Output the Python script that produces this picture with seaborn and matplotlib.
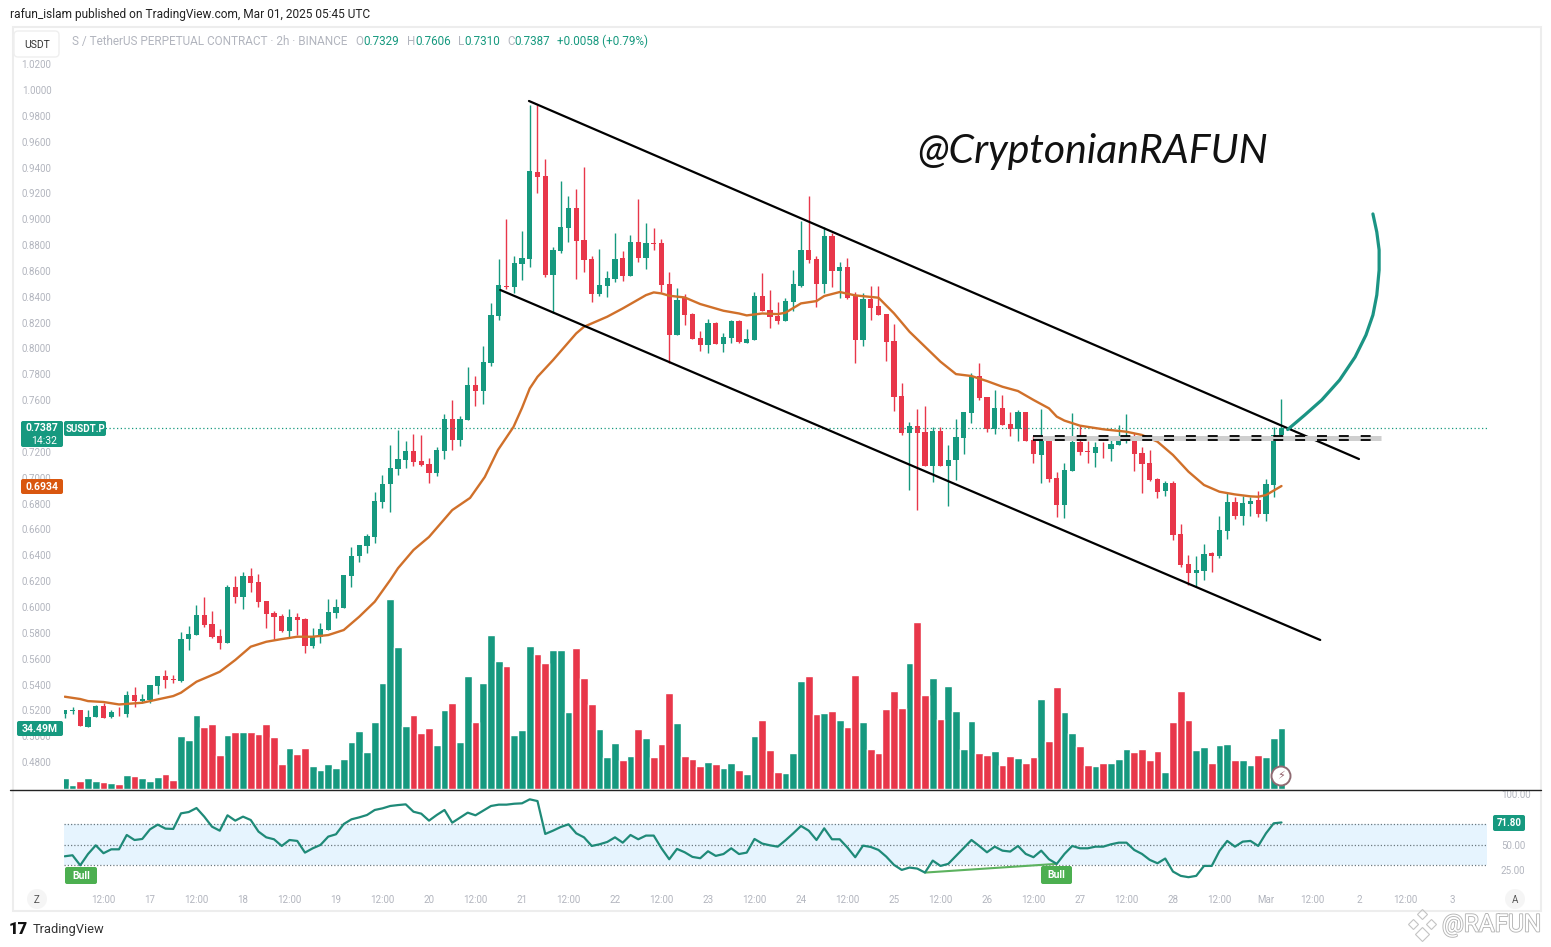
import pandas as pd
import matplotlib
matplotlib.use('Agg')
import matplotlib.pyplot as plt
import matplotlib.patheffects as pe
from matplotlib.patches import Rectangle, FancyBboxPatch, Circle
import seaborn as sns

# candles
opens = [.5175,.5195,.5200,.5074,.5150,.5234,.5146,.5190,.5174,.5319,
         .5272,.5280,.5391,.5466,.5441,.5427,.5752,.5780,.5940,.5868,
         .5775,.5724,.6155,.6080,.6240,.6193,.6046,.5950,.5930,.5817,
         .5920,.5907,.5698,.5765,.5822,.5956,.5995,.6242,.6397,.6475,
         .6545,.6815,.6950,.7070,.7137,.7206,.7129,.7106,.7036,.7206,
         .7454,.7292,.7446,.7715,.7673,.7890,.8251,.8483,.8478,.8656,
         .8692,.9365,.9334,.8568,.8754,.8932,.9087,.8839,.8694,.8421,
         .8483,.8537,.8700,.8560,.8824,.8700,.8816,.8816,.8498,.8104,
         .8390,.8266,.8081,.8026,.8197,.8034,.8080,.8212,.8042,.8065,
         .8406,.8297,.8251,.8212,.8362,.8483,.8762,.8692,.8499,.8870,
         .8599,.8631,.8406,.8065,.8383,.8328,.8267,.8057,.7632,.7348,
         .7400,.7353,.7090,.7361,.7090,.7136,.7307,.7500,.7787,.7624,
         .7376,.7539,.7415,.7376,.7508,.7291,.7175,.7312,.6995,.6788,
         .7051,.7274,.7204,.7194,.7240,.7222,.7253,.7289,.7300,.7189,
         .7111,.6990,.6900,.6956,.6564,.6332,.6265,.6278,.6415,.6397,
         .6590,.6812,.6704,.6797,.6825,.6719,.6943,.7329]
highs = [.5205,.5225,.5205,.5200,.5241,.5254,.5203,.5223,.5350,.5383,
         .5326,.5396,.5470,.5512,.5473,.5804,.5850,.6015,.6080,.5971,
         .5830,.6170,.6240,.6270,.6299,.6255,.6046,.5971,.5946,.5984,
         .5956,.5912,.5835,.5873,.6062,.6062,.6250,.6467,.6483,.6565,
         .6892,.7022,.7254,.7369,.7286,.7338,.7330,.7150,.7240,.7493,
         .7601,.7477,.7854,.7787,.8019,.8355,.8692,.9002,.8715,.8911,
         .9884,.9884,.9463,.8782,.9298,.9180,.9234,.9401,.8715,.8769,
         .8599,.8896,.8756,.8878,.9156,.8973,.8934,.8847,.8589,.8465,
         .8421,.8271,.8135,.8228,.8202,.8117,.8220,.8220,.8153,.8437,
         .8586,.8452,.8362,.8388,.8607,.8989,.9180,.8715,.8942,.8891,
         .8672,.8697,.8439,.8426,.8483,.8483,.8267,.8186,.7730,.7428,
         .7531,.7554,.7395,.7390,.7253,.7451,.7508,.7807,.7885,.7624,
         .7678,.7640,.7508,.7523,.7508,.7322,.7529,.7312,.7047,.7111,
         .7498,.7408,.7287,.7279,.7279,.7305,.7408,.7493,.7344,.7235,
         .7214,.6995,.6977,.6977,.6642,.6402,.6394,.6487,.6422,.6704,
         .6879,.6848,.6858,.6853,.6900,.6987,.7395,.7606]
lows = [.5145,.5175,.5080,.5074,.5150,.5138,.5138,.5156,.5151,.5228,
        .5254,.5260,.5330,.5370,.5409,.5417,.5667,.5780,.5848,.5757,
        .5675,.5724,.6028,.5982,.6118,.6002,.5835,.5744,.5810,.5770,
        .5783,.5641,.5680,.5719,.5822,.5912,.5995,.6157,.6350,.6415,
        .6493,.6765,.6738,.7021,.7077,.7090,.7090,.6956,.7013,.7145,
        .7214,.7245,.7446,.7555,.7570,.7864,.8220,.8460,.8426,.8529,
        .8633,.9200,.8555,.8277,.8736,.8826,.8537,.8594,.8362,.8406,
        .8400,.8517,.8522,.8560,.8671,.8615,.8762,.8439,.7884,.8104,
        .8181,.8073,.7982,.7967,.8034,.7975,.8039,.8044,.8042,.8065,
        .8289,.8160,.8190,.8212,.8292,.8478,.8664,.8318,.8426,.8473,
        .8388,.8380,.7885,.8019,.8220,.8259,.7903,.7516,.7330,.6904,
        .6749,.7090,.6966,.7090,.6781,.6982,.7183,.7425,.7601,.7356,
        .7337,.7407,.7325,.7286,.7286,.7111,.6961,.6969,.6698,.6685,
        .7054,.7176,.7111,.7085,.7150,.7132,.7253,.7271,.7052,.6879,
        .6977,.6846,.6861,.6518,.6306,.6170,.6157,.6208,.6273,.6376,
        .6523,.6680,.6634,.6704,.6693,.6667,.6848,.7310]
closes = [.5200,.5200,.5082,.5150,.5234,.5143,.5187,.5185,.5319,.5272,
          .5288,.5396,.5466,.5435,.5436,.5752,.5790,.5940,.5860,.5770,
          .5724,.6157,.6080,.6240,.6188,.6041,.5946,.5925,.5817,.5920,
          .5900,.5700,.5770,.5827,.5958,.6000,.6245,.6395,.6480,.6552,
          .6820,.6950,.7073,.7142,.7206,.7121,.7098,.7036,.7214,.7454,
          .7292,.7454,.7715,.7673,.7895,.8259,.8491,.8473,.8664,.8697,
          .9373,.9327,.8568,.8762,.8940,.9087,.8831,.8684,.8421,.8491,
          .8545,.8694,.8560,.8824,.8700,.8816,.8811,.8491,.8104,.8375,
          .8258,.8073,.8026,.8197,.8034,.8088,.8212,.8050,.8073,.8406,
          .8289,.8243,.8212,.8367,.8499,.8762,.8685,.8499,.8870,.8602,
          .8628,.8388,.8065,.8383,.8315,.8259,.8050,.7627,.7348,.7400,
          .7348,.7090,.7361,.7090,.7136,.7315,.7508,.7787,.7614,.7376,
          .7539,.7407,.7376,.7508,.7286,.7181,.7318,.6992,.6789,.7059,
          .7274,.7201,.7196,.7235,.7235,.7261,.7297,.7300,.7184,.7106,
          .6982,.6892,.6956,.6557,.6324,.6260,.6286,.6410,.6397,.6595,
          .6812,.6704,.6802,.6817,.6719,.6951,.7330,.7387]

# volume in millions
volumes = [6.2,2.3,4.5,6.2,4.5,4.0,3.4,2.8,7.9,7.3,
           6.2,4.5,6.8,8.5,5.1,30.0,27.7,41.8,35.0,36.7,
           19.2,30.5,32.2,32.2,32.2,31.1,36.7,29.4,14.1,23.2,
           19.8,23.2,13.0,10.7,14.1,11.9,17.0,26.6,32.8,20.9,
           37.9,59.9,107.4,80.3,35.6,41.8,31.7,34.5,24.9,44.7,
           48.6,26.6,63.9,37.9,59.9,87.0,72.3,69.5,30.5,33.3,
           80.8,76.3,71.2,78.6,78.6,43.5,79.7,62.7,48.0,33.9,
           18.1,26.0,16.4,18.7,33.9,28.8,18.1,25.4,54.3,37.3,
           18.7,17.0,13.0,15.3,14.1,11.9,14.7,10.7,8.5,30.0,
           39.0,22.0,9.6,9.0,20.3,61.0,63.9,42.4,43.0,44.1,
           39.0,35.0,64.4,37.9,22.6,20.3,45.2,55.4,45.8,71.2,
           94.4,53.1,62.7,39.6,58.2,44.1,22.6,38.4,20.3,19.2,
           21.5,13.6,18.7,17.5,14.7,18.1,50.9,27.1,57.7,43.5,
           31.7,24.3,13.6,13.0,14.7,14.7,17.0,22.6,20.9,22.6,
           16.4,21.5,9.6,37.9,55.4,39.0,22.0,23.7,14.7,24.9,
           25.4,16.4,16.4,13.6,19.2,18.1,28.8,34.49]

rsi = [38.8,39.8,30.0,41.0,49.5,41.8,45.6,45.6,59.6,54.7,
       55.7,65.1,69.7,65.8,65.5,80.7,82.0,85.9,77.5,67.7,
       63.8,78.8,73.6,77.5,74.2,62.9,57.3,55.4,48.9,54.7,
       53.8,42.4,46.6,49.9,58.0,60.3,70.3,74.9,76.8,79.1,
       84.0,85.6,87.9,88.8,89.5,82.3,80.4,73.6,79.1,84.0,
       71.6,76.5,81.4,78.8,83.3,87.9,89.2,89.2,90.1,90.5,
       94.4,92.7,60.6,63.8,67.4,70.0,61.2,57.3,48.9,50.5,
       52.8,57.3,52.1,59.6,55.4,59.0,59.0,46.6,35.9,46.0,
       42.7,38.2,36.9,43.7,39.2,41.0,46.6,41.0,42.4,55.7,
       51.2,49.5,48.2,54.4,61.2,68.4,63.8,54.7,66.1,55.4,
       55.4,47.3,37.9,49.2,47.9,45.0,38.5,30.4,25.5,27.8,
       26.8,22.9,34.6,29.4,31.4,39.2,46.9,54.7,48.9,42.7,
       48.2,44.3,43.4,48.9,41.1,37.9,44.3,35.9,31.4,41.1,
       48.9,46.6,46.6,48.2,48.2,50.5,52.1,52.1,45.0,41.1,
       35.3,32.0,36.6,23.9,19.7,18.4,19.7,29.4,29.4,44.0,
       53.8,48.2,53.1,53.8,48.9,61.2,71.0,71.8]

# moving average, sampled along the orange line
ema_bars = [0,2,3,5,7,10,12,14,15,17,19,20,22,24,26,28,30,32,34,36,38,40,42,43,
            45,47,50,52.3,54.2,55.9,57.9,59,60,61,63,66,67,70,72,75,76,77,78,80,82,85,87,88,90,92,
            93,95,97,98,100,102,105,107,109,111,113,115,117,119,121,123,125,127,128,129,
            131,134,137,139,141,143,145,147,149,151,153,154,155,157]
ema_vals = [.5306,.5288,.5272,.5265,.5246,.5259,.5285,.5311,.5337,.5422,.5473,.5499,
            .5590,.5693,.5731,.5752,.5770,.5770,.5783,.5822,.5925,.6041,.6209,.6300,
            .6441,.6542,.6750,.6844,.7006,.7215,.7393,.7540,.7691,.7781,.7910,.8117,.8168,.8246,
            .8310,.8413,.8434,.8426,.8408,.8395,.8344,.8292,.8271,.8256,.8271,.8266,
            .8277,.8349,.8367,.8406,.8437,.8411,.8393,.8272,.8130,.8014,.7898,.7802,
            .7787,.7748,.7704,.7671,.7602,.7537,.7473,.7442,.7403,.7375,.7356,.7331,
            .7279,.7176,.7047,.6944,.6892,.6871,.6856,.6853,.6866,.6936]

# drawn tools: channel, level and the projected arc
upper_bars = [59.9, 167.0]
upper_vals = [.9915, .7145]
lower_bars = [56.2, 162.0]
lower_vals = [.8453, .5745]
level_bars = [124.9, 169.9]
level_val = .7307
arc_bars = [157.8,160.0,162.2,164.5,166.5,167.9,168.8,169.3,169.6,169.6,169.3,168.8]
arc_vals = [.7373,.7485,.7602,.7756,.7934,.8104,.8259,.8414,.8607,.8762,.8901,.9041]
div_bars = [111, 128]
div_vals = [22.9, 31.4]

# the 0.7400 label sits behind the last price tag on the original
price_ticks = [.48,.50,.52,.54,.56,.58,.60,.62,.64,.66,.68,.70,.72,.76,.78,.80,
               .82,.84,.86,.88,.90,.92,.94,.96,.98,1.00,1.02]
time_ticks = [5,11,17,23,29,35,41,47,53,59,65,71,77,83,89,95,101,107,113,119,125,
              131,137,143,149,155,161,167,173,179]
time_labels = ['12:00','17','12:00','18','12:00','19','12:00','20','12:00','21',
               '12:00','22','12:00','23','12:00','24','12:00','25','12:00','26',
               '12:00','27','12:00','28','12:00','Mar','12:00','2','12:00','3']

GREEN = '#16997f'
RED = '#e8374a'
ORANGE = '#d0702a'
TEAL = '#1f8a78'
GREY = '#b2b5be'
W, H = 1551, 947

sns.set_theme(style='white')
plt.rcParams['font.family'] = ['Roboto', 'DejaVu Sans']

df = pd.DataFrame({'bar': range(len(opens)), 'open': opens, 'high': highs, 'low': lows,
                   'close': closes, 'vol': volumes, 'rsi': rsi})
df['dir'] = ['up' if c >= o else 'down' for o, c in zip(opens, closes)]
df['body'] = (df['close'] - df['open']).abs().clip(lower=.0005)
df['base'] = df[['open', 'close']].min(axis=1)
colors = df['dir'].map({'up': GREEN, 'down': RED})

fig = plt.figure(figsize=(W / 100, H / 100), dpi=100, facecolor='white')


def px_axes(x0, y0, x1, y1, **kw):
    return fig.add_axes([x0 / W, 1 - y1 / H, (x1 - x0) / W, (y1 - y0) / H], **kw)


xlim = (-0.097, 183.52)

# volume underneath, on its own scale
ax_vol = px_axes(64, 27, 1487, 789)
sns.barplot(data=df, x='bar', y='vol', hue='dir', palette={'up': GREEN, 'down': RED},
            dodge=False, native_scale=True, width=1.0, saturation=1, legend=False, ax=ax_vol)
ax_vol.set_xlim(*xlim)
ax_vol.set_ylim(0, 430.5)
ax_vol.axis('off')

# price pane
ax = px_axes(64, 27, 1487, 789)
ax.patch.set_alpha(0)
ax.vlines(df['bar'], df['low'], df['high'], colors=colors, lw=1)
ax.bar(df['bar'], df['body'], bottom=df['base'], width=.7, color=colors, linewidth=0)
sns.lineplot(x=ema_bars, y=ema_vals, color=ORANGE, lw=1.7, ax=ax, zorder=4)
ax.axhline(closes[-1], color=GREEN, lw=.9, ls=(0, (1, 2)), zorder=1)
sns.lineplot(x=upper_bars, y=upper_vals, color='black', lw=1.6, ax=ax, zorder=5)
sns.lineplot(x=lower_bars, y=lower_vals, color='black', lw=1.6, ax=ax, zorder=5)
ax.plot(level_bars, [level_val] * 2, color='#cfcfcf', lw=3.6, solid_capstyle='butt', zorder=5)
for off in (-.0014, .0014):
    ax.plot(level_bars, [level_val + off] * 2, color='black', lw=1.3,
            dashes=(5.5, 6.6), dash_capstyle='butt', zorder=6)
sns.lineplot(x=arc_bars, y=arc_vals, color='#1b9484', lw=2.3, sort=False, estimator=None,
             ax=ax, zorder=6)
ax.set_xlim(*xlim)
ax.set_ylim(.45919, 1.04874)
ax.set_yticks(price_ticks)
ax.set_yticklabels([f'{t:.4f}' for t in price_ticks])
ax.tick_params(axis='y', length=0, pad=9, labelsize=7, labelcolor=GREY)
ax.set_xticks([])
ax.set_xlabel('')
ax.set_ylabel('')
sns.despine(ax=ax, left=True, bottom=True)

# rsi pane
ax_rsi = px_axes(64, 790, 1487, 888)
ax_rsi.axhspan(30, 70, color='#e6f4fe', lw=0)
for lvl in (30, 50, 70):
    ax_rsi.axhline(lvl, color='#6d7a80', lw=.9, ls=(0, (1, 1.6)))
sns.lineplot(data=df, x='bar', y='rsi', color=TEAL, lw=1.6, ax=ax_rsi, zorder=4)
sns.lineplot(x=div_bars, y=div_vals, color='#5cb25f', lw=1.5, ax=ax_rsi, zorder=3)
ax_rsi.set_xlim(*xlim)
ax_rsi.set_ylim(7.85, 103.5)
ax_rsi.yaxis.tick_right()
ax_rsi.set_yticks([25, 50, 100])
ax_rsi.set_yticklabels(['25.00', '50.00', '100.00'])
ax_rsi.set_xticks(time_ticks)
ax_rsi.set_xticklabels(time_labels)
ax_rsi.tick_params(axis='y', length=0, pad=10, labelsize=7, labelcolor=GREY)
ax_rsi.tick_params(axis='x', length=0, pad=5, labelsize=7, labelcolor=GREY)
ax_rsi.set_xlabel('')
ax_rsi.set_ylabel('')
sns.despine(ax=ax_rsi, left=True, right=True, top=True, bottom=True)

# page furniture in pixel coordinates
ov = fig.add_axes([0, 0, 1, 1], zorder=10)
ov.set_xlim(0, W)
ov.set_ylim(H, 0)
ov.axis('off')
ov.patch.set_alpha(0)

ov.add_patch(Rectangle((13, 27), 1528, 884, fill=False, ec='#ededed', lw=1.5))
ov.plot([10, 1541], [789.5, 789.5], color='#222222', lw=1)


def tag(x0, y0, x1, y1, color, label, size=7.5, cx=None, cy=None):
    ov.add_patch(FancyBboxPatch((x0 + 1, y0 + 1), x1 - x0 - 2, y1 - y0 - 2,
                                boxstyle='round,pad=1,rounding_size=2', fc=color, ec='none'))
    ov.text((x0 + x1) / 2 if cx is None else cx, (y0 + y1) / 2 if cy is None else cy, label,
            color='white', fontsize=size, fontweight='bold', ha='center', va='center')


ov.text(10, 14.5, 'rafun_islam published on TradingView.com, Mar 01, 2025 05:45 UTC',
        fontsize=8.6, color='#222222', va='center')
ov.add_patch(FancyBboxPatch((15, 32), 43, 24, boxstyle='round,pad=1,rounding_size=4',
                            fc='white', ec='#efefef', lw=1))
ov.text(37, 44.5, 'USDT', fontsize=7.5, color='#333333', ha='center', va='center')

legend_y = 41.5
ov.text(72, legend_y, 'S / TetherUS PERPETUAL CONTRACT · 2h · BINANCE', fontsize=8.45,
        color=GREY, va='center')
for x, label, col in [(355, 'O', GREY), (363, '0.7329', GREEN), (407, 'H', GREY),
                      (415, '0.7606', GREEN), (458, 'L', GREY), (464, '0.7310', GREEN),
                      (507, 'C', GREY), (514, '0.7387', GREEN), (557, '+0.0058 (+0.79%)', GREEN)]:
    ov.text(x, legend_y, label, fontsize=8.4, color=col, va='center')

tag(21, 421, 63, 447, GREEN, '0.7387', cy=428)
ov.text(44, 440.5, '14:32', fontsize=7.5, color='white', ha='center', va='center')
tag(64, 421, 106, 436, GREEN, 'SUSDT.P', size=7)
tag(21, 479, 63, 494, '#d9570f', '0.6934')
tag(17, 721, 63, 736, GREEN, '34.49M')
tag(1493, 815, 1525, 831, GREEN, '71.80', size=7)
tag(65, 867, 97, 884, '#4caf50', 'Bull', size=7.5)
tag(1041, 866, 1072, 884, '#4caf50', 'Bull', size=7.5)

ov.text(917, 151, '@CryptonianRAFUN', fontsize=29.5, fontstyle='italic', family='Lato',
        color='#111111', va='center')

# lightning badge
ov.add_patch(Circle((1281, 776), 9.5, fc='white', ec='#8f6a72', lw=1.4))
ov.text(1281, 776.5, '⚡', family='DejaVu Sans', fontsize=8, color='#8f5a66', ha='center', va='center')

for cx, label in [(37, 'Z'), (1515, 'A')]:
    ov.add_patch(Circle((cx, 899), 10, fc='#f5f5f5', ec='none'))
    ov.text(cx, 899.5, label, fontsize=7, color='#555555', ha='center', va='center')

# footer
ov.text(9, 929, '17', fontsize=12, fontweight='black', color='#111111', va='center')
ov.text(33, 929, 'TradingView', fontsize=9.3, color='#333333', va='center')
ov.text(1442, 925, '@RAFUN', fontsize=17.5, color='white', va='center',
        path_effects=[pe.withStroke(linewidth=1.3, foreground='#b5b5b5')])
for dx, dy, s in [(1422, 914, 11), (1413, 924, 11), (1431, 924, 11), (1422, 934, 18)]:
    ov.plot(dx, dy, marker='D', ms=s ** .5 * 1.6, mfc='none', mec='#c4c4c4', mew=.8)

fig.savefig('out.png', dpi=100, facecolor='white')
